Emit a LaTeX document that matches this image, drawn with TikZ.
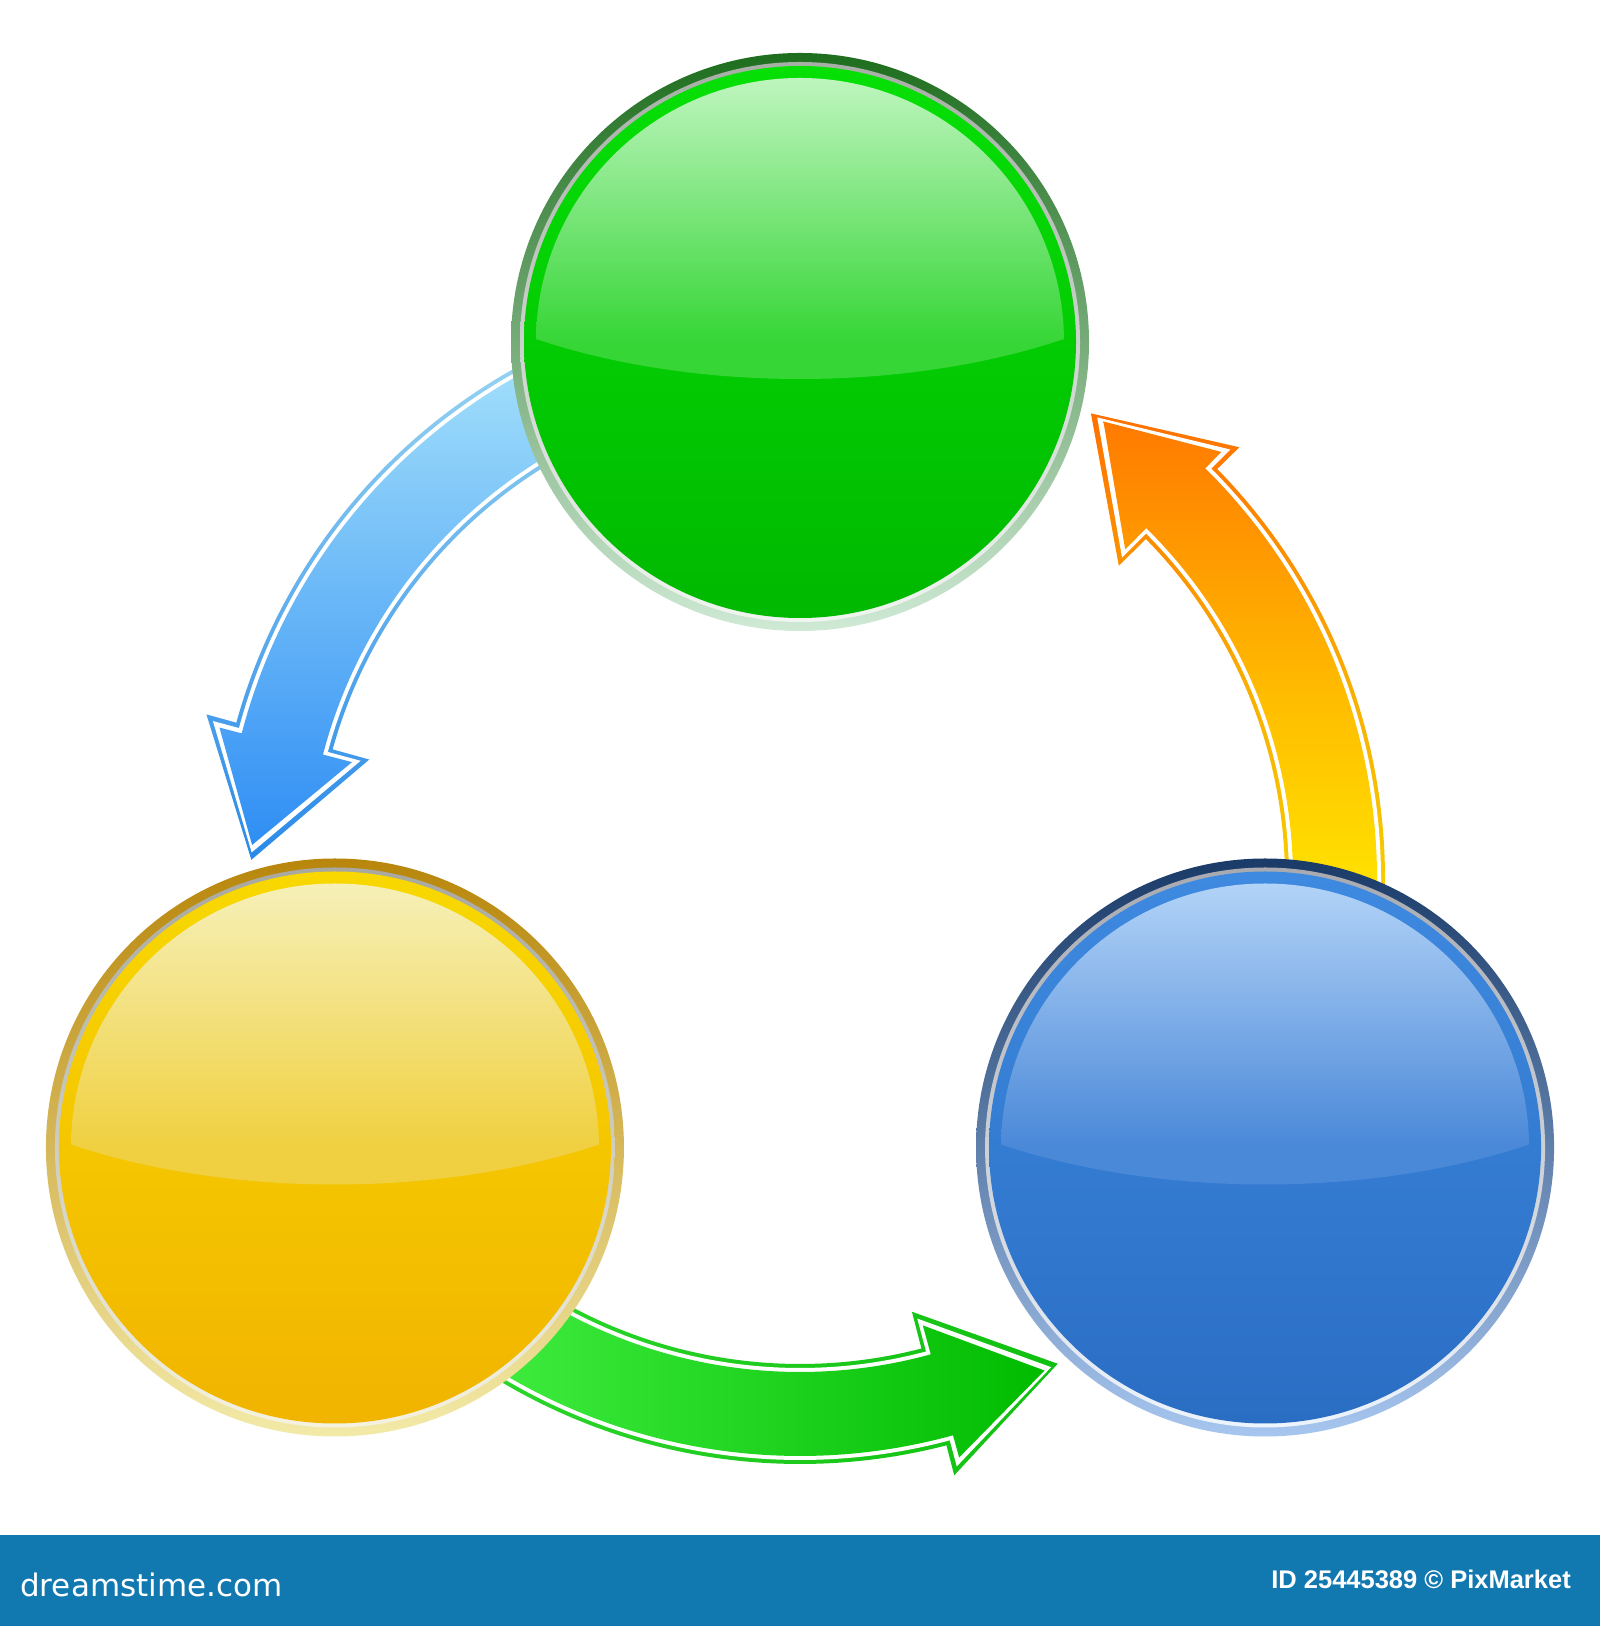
\documentclass[tikz,border=0pt]{standalone}
\usepackage{fontspec}
\usetikzlibrary{calc}
\setmainfont{Liberation Sans}
\newfontfamily\logofont{DejaVu Sans}
\definecolor{banner}{RGB}{17,120,176}
% green ball
\definecolor{gOutT}{HTML}{1E6E1E}\definecolor{gOutB}{HTML}{CFE9D5}
\definecolor{gGrT}{HTML}{A6AEA6}\definecolor{gGrB}{HTML}{F0F5F0}
\definecolor{gInT}{HTML}{06E006}\definecolor{gInB}{HTML}{00B800}
\definecolor{gHiT}{HTML}{BFF5BF}\definecolor{gHiB}{HTML}{36D636}
% yellow ball
\definecolor{yOutT}{HTML}{B8860B}\definecolor{yOutB}{HTML}{F3EAA8}
\definecolor{yGrT}{HTML}{A8A8A0}\definecolor{yGrB}{HTML}{F5F2E0}
\definecolor{yInT}{HTML}{F8D800}\definecolor{yInB}{HTML}{F1B400}
\definecolor{yHiT}{HTML}{F6F0B8}\definecolor{yHiB}{HTML}{F0D040}
% blue ball
\definecolor{bOutT}{HTML}{1A3A68}\definecolor{bOutB}{HTML}{A6C6EF}
\definecolor{bGrT}{HTML}{A8AAB0}\definecolor{bGrB}{HTML}{EEF4FC}
\definecolor{bInT}{HTML}{3E8AE0}\definecolor{bInB}{HTML}{2A6EC4}
\definecolor{bHiT}{HTML}{B2D3F7}\definecolor{bHiB}{HTML}{4A88D8}
% arrows
\definecolor{gaL}{HTML}{44F044}\definecolor{gaR}{HTML}{00BB00}
\definecolor{gaBL}{HTML}{2ED82E}\definecolor{gaBR}{HTML}{10C010}
\definecolor{baT}{HTML}{A6E2FB}\definecolor{baB}{HTML}{2F8EF4}
\definecolor{baBT}{HTML}{9AD6F2}\definecolor{baBB}{HTML}{2B8AE8}
\definecolor{oaT}{HTML}{FF7A00}\definecolor{oaB}{HTML}{FFF000}
\definecolor{oaBT}{HTML}{FF7000}\definecolor{oaBB}{HTML}{F5D800}

% one layer of a curved arrow: #1 rotation, #2 inward offset, #3 paint options
\newcommand{\arrowlayer}[3]{%
  \pgfmathsetmacro\rIn{485+#2}%
  \pgfmathsetmacro\rOut{585-#2}%
  \pgfmathsetmacro\rBi{447+2*#2}%
  \pgfmathsetmacro\rBo{616-2*#2}%
  \pgfmathsetmacro\thB{284.5+0.11*#2+#1}%
  \pgfmathsetmacro\thT{298-0.194*#2+#1}%
  \pgfmathsetmacro\thS{232+#1}%
  \path[#3] (\thS:\rOut pt) arc[start angle=\thS, end angle=\thB, radius=\rOut pt]
    -- (\thB:\rBo pt) -- (\thT:549pt) -- (\thB:\rBi pt) -- (\thB:\rIn pt)
    arc[start angle=\thB, end angle=\thS, radius=\rIn pt] -- cycle;
}
% glossy ball: #1 centre coordinate, #2 colour prefix
\newcommand{\glossball}[2]{%
  \shade[top color=#2OutT, bottom color=#2OutB] (#1) circle[radius=289pt];
  \shade[top color=#2GrT, bottom color=#2GrB] (#1) circle[radius=280pt];
  \shade[top color=#2InT, bottom color=#2InB] (#1) circle[radius=276pt];
  \begin{scope}
    \clip ([yshift=200pt]#1) ellipse[x radius=475pt, y radius=237pt];
    \shade[top color=#2HiT, bottom color=#2HiB, middle color=#2HiB] (#1) circle[radius=264pt];
  \end{scope}
}

\begin{document}
\begin{tikzpicture}[x=1pt,y=1pt]
\useasboundingbox (0,0) rectangle (1600,1626);
\fill[white] (0,0) rectangle (1600,1626);

\coordinate (c) at (800,747);
\coordinate (gball) at ($(c)+(90:537pt)$);
\coordinate (yball) at ($(c)+(210:537pt)$);
\coordinate (bball) at ($(c)+(330:537pt)$);

% arrows
\begin{scope}[shift={(c)}]
  % green arrow: yellow -> blue
  \arrowlayer{0}{0}{left color=gaBL, right color=gaBR}
  \arrowlayer{0}{4}{fill=white}
  \arrowlayer{0}{8}{left color=gaL, right color=gaR}
  % orange arrow: blue -> green
  \arrowlayer{120}{0}{top color=oaBT, bottom color=oaBB, middle color=oaBB!60!oaBT}
  \arrowlayer{120}{4}{fill=white}
  \arrowlayer{120}{8}{top color=oaT, bottom color=oaB, middle color=oaB!55!oaT}
  % blue arrow: green -> yellow
  \arrowlayer{240}{0}{top color=baBT, bottom color=baBB}
  \arrowlayer{240}{4}{fill=white}
  \arrowlayer{240}{8}{top color=baT, bottom color=baB}
\end{scope}

% balls
\glossball{gball}{g}
\glossball{yball}{y}
\glossball{bball}{b}

% banner
\fill[banner] (0,0) rectangle (1600,91);
\node[anchor=base west, text=white, inner sep=0pt,
      font=\logofont\fontsize{31pt}{36pt}\selectfont] (logo) at (20,29) {dreamstime.com};
\node[anchor=base east, text=white, inner sep=0pt,
      font=\fontsize{25.5pt}{30pt}\selectfont\bfseries] (imgid) at (1571,37) {ID 25445389 © PixMarket};
\end{tikzpicture}
\end{document}
